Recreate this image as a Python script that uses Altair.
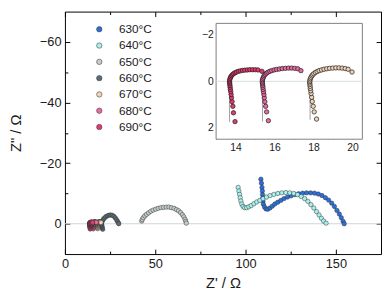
import altair as alt
import pandas as pd

FONT = "Liberation Sans"

temps = ["630°C", "640°C", "650°C", "660°C", "670°C", "680°C", "690°C"]
fills = ["#2a6fdc", "#a6f0ee", "#c4cccc", "#5c6c74", "#f2d2b4", "#e86aa2", "#e43a6c"]

x630 = [108.5, 108.8, 109.1, 109.3, 109.4, 109.5, 109.6, 109.9, 110.5, 111.3, 112.3, 113.5, 114.8, 116.2, 117.8, 119.5, 121.3, 123.2, 125.2, 127.3, 129.4, 131.6, 133.8, 136.0, 138.2, 140.3, 142.3, 144.2, 146.0, 147.7, 149.2, 150.6, 151.9, 153.0, 154.0, 154.6]
y630 = [-14.7, -13.4, -12.0, -10.8, -9.6, -8.5, -7.4, -6.4, -5.5, -4.9, -4.8, -5.2, -5.8, -6.5, -7.1, -7.7, -8.3, -8.8, -9.2, -9.6, -9.9, -10.1, -10.2, -10.2, -10.1, -9.8, -9.3, -8.6, -7.8, -6.8, -5.7, -4.4, -3.2, -2.0, -0.8, 0.0]

x640 = [95.9, 96.3, 96.7, 97.0, 97.4, 97.9, 98.6, 99.5, 100.6, 101.8, 103.1, 104.6, 106.2, 107.9, 109.7, 111.6, 113.6, 115.7, 117.9, 120.1, 122.3, 124.5, 126.7, 128.8, 130.8, 132.7, 134.5, 136.2, 137.8, 139.3, 140.7, 142.0, 143.2, 144.6]
y640 = [-12.0, -10.8, -9.7, -8.6, -7.5, -6.5, -5.7, -5.3, -5.3, -5.6, -6.0, -6.6, -7.2, -7.7, -8.3, -8.8, -9.3, -9.7, -10.0, -10.2, -10.3, -10.2, -10.0, -9.6, -9.0, -8.3, -7.4, -6.3, -5.2, -4.0, -2.9, -1.8, -0.9, -0.2]

x650 = [42.5, 42.8, 43.4, 44.2, 45.2, 46.3, 47.5, 48.8, 50.2, 51.6, 53.1, 54.6, 56.1, 57.6, 59.0, 60.4, 61.7, 62.9, 64.0, 65.0, 65.8, 66.5, 66.9, 67.2]
y650 = [-0.9, -1.4, -2.0, -2.6, -3.1, -3.6, -4.1, -4.5, -4.8, -5.1, -5.3, -5.4, -5.5, -5.5, -5.3, -5.1, -4.7, -4.3, -3.7, -3.0, -2.3, -1.5, -0.8, -0.2]

x660 = [20.9, 20.6, 20.5, 20.4, 20.3, 20.2, 20.2, 20.4, 20.8, 21.3, 21.9, 22.6, 23.4, 24.3, 25.2, 26.1, 27.0, 27.8, 28.5, 29.1, 29.6, 29.8]
y660 = [1.8, 1.3, 0.9, 0.6, 0.3, 0.1, -0.2, -0.6, -1.0, -1.5, -1.9, -2.3, -2.6, -2.8, -2.9, -2.8, -2.5, -2.0, -1.4, -0.8, -0.3, 0.0]

x670 = [18.15, 18.03, 17.98, 17.93, 17.90, 17.87, 17.85, 17.83, 17.82, 17.81, 17.80, 17.80, 17.81, 17.83, 17.86, 17.90, 17.95, 18.01, 18.09, 18.18, 18.28, 18.40, 18.53, 18.67, 18.82, 18.98, 19.14, 19.30, 19.46, 19.62, 19.77, 19.97]
y670 = [1.63, 1.32, 1.08, 0.87, 0.69, 0.53, 0.41, 0.31, 0.22, 0.14, 0.07, 0.01, -0.05, -0.11, -0.17, -0.23, -0.28, -0.33, -0.38, -0.42, -0.46, -0.49, -0.52, -0.54, -0.56, -0.57, -0.58, -0.58, -0.57, -0.55, -0.52, -0.40]

x680 = [15.68, 15.59, 15.54, 15.50, 15.47, 15.45, 15.43, 15.41, 15.40, 15.39, 15.38, 15.37, 15.37, 15.38, 15.40, 15.43, 15.47, 15.52, 15.58, 15.66, 15.75, 15.85, 15.97, 16.10, 16.24, 16.39, 16.55, 16.71, 16.87, 17.03, 17.19, 17.35]
y680 = [1.70, 1.32, 1.08, 0.88, 0.71, 0.57, 0.45, 0.35, 0.26, 0.18, 0.11, 0.05, -0.01, -0.07, -0.13, -0.19, -0.25, -0.30, -0.35, -0.39, -0.43, -0.46, -0.49, -0.51, -0.53, -0.55, -0.56, -0.57, -0.57, -0.56, -0.54, -0.46]

x690 = [13.97, 13.89, 13.86, 13.82, 13.79, 13.77, 13.75, 13.73, 13.72, 13.71, 13.70, 13.69, 13.69, 13.70, 13.72, 13.75, 13.79, 13.84, 13.90, 13.97, 14.05, 14.14, 14.24, 14.35, 14.47, 14.60, 14.73, 14.87, 15.01, 15.15, 15.35]
y690 = [1.74, 1.36, 1.08, 0.88, 0.71, 0.57, 0.45, 0.35, 0.26, 0.18, 0.11, 0.05, -0.01, -0.07, -0.13, -0.19, -0.24, -0.29, -0.33, -0.37, -0.40, -0.43, -0.45, -0.47, -0.48, -0.49, -0.50, -0.50, -0.50, -0.49, -0.43]

# inset fit lines (vertical low-frequency parts)
fit_T = ["670°C", "670°C", "680°C", "680°C", "690°C", "690°C"]
fit_x = [17.82, 17.82, 15.38, 15.38, 13.69, 13.69]
fit_y = [0.0, 1.66, 0.0, 1.74, 0.0, 1.76]

main_x_ticks = [0, 50, 100, 150]
main_x_minor = [25, 75, 125]
main_y_ticks = [-60, -40, -20, 0]
main_y_minor = [-50, -30, -10]
ins_x_ticks = [14, 16, 18, 20]
ins_x_minor = [13, 15, 17, 19]
ins_y_ticks = [-2, 0, 2]
ins_y_minor = [-1, 1]

series = {"630°C": (x630, y630), "640°C": (x640, y640), "650°C": (x650, y650),
          "660°C": (x660, y660), "670°C": (x670, y670), "680°C": (x680, y680),
          "690°C": (x690, y690)}
rows = []
for t, (xs, ys) in series.items():
    for i, (a, b) in enumerate(zip(xs, ys)):
        rows.append({"T": t, "x": a, "y": b, "i": i})
main = pd.DataFrame(rows)
inset = main[main["T"].isin(["670°C", "680°C", "690°C"])]
fits = pd.DataFrame({"T": fit_T, "x": fit_x, "y": fit_y, "i": [0, 1, 0, 1, 0, 1]})
zero = pd.DataFrame({"y": [0.0], "x": [13.0], "x2": [20.5]})
frame = pd.DataFrame({"x": [13.0], "x2": [20.5], "y": [-2.5], "y2": [2.5]})

W, H = 322, 247
# inset box in plot pixels
IX0, IX1, IY0, IY1 = 154, 303, 12, 130

MX = alt.Scale(domain=[0, 175], nice=False, zero=False)
MY = alt.Scale(domain=[-70, 10], reverse=True, nice=False, zero=False)
IX = alt.Scale(domain=[13, 20.5], range=[IX0, IX1], nice=False, zero=False)
IY = alt.Scale(domain=[-2.5, 2.5], range=[IY0, IY1], nice=False, zero=False)


def tick_axis(orient, values, size, offset, color="black", labels=False, title=None,
              lsize=13, lpad=4, tpad=0):
    kw = dict(orient=orient, values=values, tickSize=size, offset=offset, domain=False,
              grid=False, ticks=True, tickColor=color, tickWidth=1, labels=labels,
              labelFlush=False)
    if labels:
        kw.update(labelFontSize=lsize, labelPadding=lpad, labelFont=FONT, labelColor="#1a1a1a")
    if title:
        kw.update(title=title, titleFontSize=15, titleFont=FONT, titleFontWeight="normal",
                  titlePadding=tpad, titleColor="#1a1a1a")
    else:
        kw["title"] = None
    if not labels:
        kw.update(minExtent=0, maxExtent=0)
    return alt.Axis(**kw)


color = alt.Color("T:N", scale=alt.Scale(domain=temps, range=fills),
                  legend=alt.Legend(orient="none", legendX=29, legendY=12, title=None,
                                    labelFontSize=12, labelFont=FONT, labelColor="#1a1a1a",
                                    symbolType="circle", symbolSize=30,
                                    symbolStrokeColor="#444444", symbolStrokeWidth=0.6,
                                    rowPadding=4.6, labelOffset=14, padding=0,
                                    symbolOpacity=1))

zero_main = alt.Chart(zero).mark_rule(color="#d0d4d6", strokeWidth=1).encode(
    y=alt.Y("y:Q", scale=MY, axis=None))

lines_main = alt.Chart(main).mark_line(color="black", strokeWidth=0.7).encode(
    x=alt.X("x:Q", scale=MX, axis=tick_axis("top", main_x_ticks, 5, -5)),
    y=alt.Y("y:Q", scale=MY, axis=tick_axis("right", main_y_ticks, 5, -5)),
    detail="T:N", order="i:Q")

pts_main = alt.Chart(main).mark_point(filled=True, size=20, stroke="#333333",
                                      strokeWidth=0.5, opacity=1).encode(
    x=alt.X("x:Q", scale=MX, axis=tick_axis("bottom", main_x_ticks, 5, -5, labels=True,
                                              title="Z' / Ω", lpad=4, tpad=5)),
    y=alt.Y("y:Q", scale=MY, axis=tick_axis("left", main_y_ticks, 5, -5, labels=True,
                                              title='Z" / Ω', lpad=4, tpad=16)),
    color=color)

minor_a = alt.Chart(main).mark_point(opacity=0).encode(
    x=alt.X("x:Q", scale=MX, axis=tick_axis("bottom", main_x_minor, 3, -3)),
    y=alt.Y("y:Q", scale=MY, axis=tick_axis("left", main_y_minor, 3, -3)))
minor_b = alt.Chart(main).mark_point(opacity=0).encode(
    x=alt.X("x:Q", scale=MX, axis=tick_axis("top", main_x_minor, 3, -3)),
    y=alt.Y("y:Q", scale=MY, axis=tick_axis("right", main_y_minor, 3, -3)))

GR = "#808080"
ins_frame = alt.Chart(frame).mark_rect(fill="white", stroke=GR, strokeWidth=1).encode(
    x=alt.X("x:Q", scale=IX, axis=tick_axis("bottom", ins_x_ticks, 4, -(H - IY1) - 4, color=GR,
                                              labels=True, lsize=10.5, lpad=3)),
    x2="x2:Q",
    y=alt.Y("y:Q", scale=IY, axis=tick_axis("left", ins_y_ticks, 4, -IX0 - 4, color=GR,
                                              labels=True, lsize=10.5, lpad=3)),
    y2="y2:Q")

ins_zero = alt.Chart(zero).mark_rule(color="#d4dde2", strokeWidth=1).encode(
    x=alt.X("x:Q", scale=IX, axis=tick_axis("top", ins_x_ticks, 4, -IY0 - 4, color=GR)),
    x2="x2:Q",
    y=alt.Y("y:Q", scale=IY, axis=tick_axis("right", ins_y_ticks, 4, -(W - IX1) - 4, color=GR)))

ins_fit = alt.Chart(fits).mark_line(color="#888888", strokeWidth=0.8).encode(
    x=alt.X("x:Q", scale=IX, axis=tick_axis("bottom", ins_x_minor, 2, -(H - IY1) - 2, color=GR)),
    y=alt.Y("y:Q", scale=IY, axis=tick_axis("left", ins_y_minor, 2, -IX0 - 2, color=GR)),
    detail="T:N", order="i:Q")

ins_pts = alt.Chart(inset).mark_point(filled=True, size=20, stroke="#1a1a1a",
                                      strokeWidth=0.7, opacity=1).encode(
    x=alt.X("x:Q", scale=IX, axis=tick_axis("top", ins_x_minor, 2, -IY0 - 2, color=GR)),
    y=alt.Y("y:Q", scale=IY, axis=tick_axis("right", ins_y_minor, 2, -(W - IX1) - 2, color=GR)),
    color=color)

chart = alt.layer(
    zero_main, lines_main, pts_main, minor_a, minor_b,
    ins_frame, ins_zero, ins_fit, ins_pts
).resolve_scale(x="independent", y="independent").resolve_axis(
    x="independent", y="independent"
).properties(
    width=W, height=H, padding=0, background="white"
).configure_view(stroke="black", strokeWidth=1)

chart.save("out.html", embed_options={"renderer": "svg", "actions": False})
